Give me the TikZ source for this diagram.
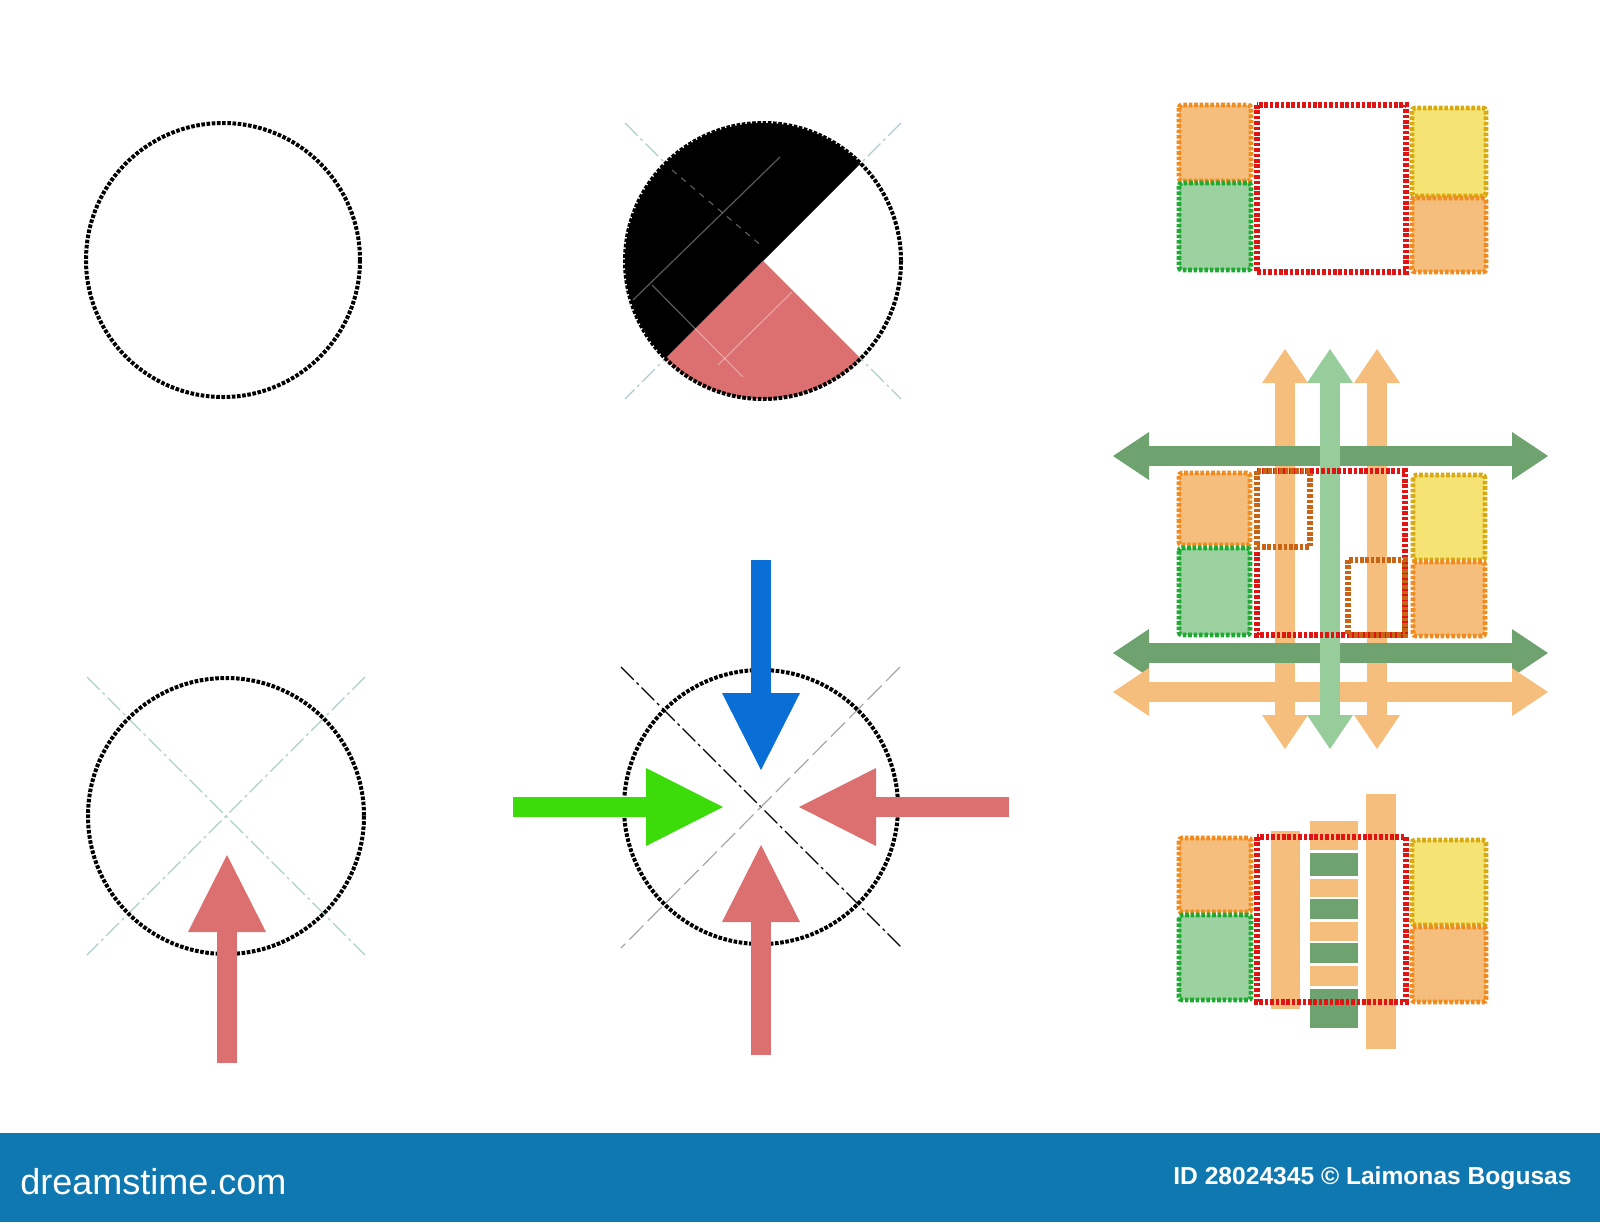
\documentclass[tikz,border=0pt]{standalone}
\usepackage{fontspec}
\setmainfont{Liberation Sans}
\usetikzlibrary{arrows.meta}

\definecolor{peach}{RGB}{246,190,125}
\definecolor{peachline}{RGB}{240,140,30}
\definecolor{mint}{RGB}{155,210,160}
\definecolor{mintline}{RGB}{30,170,50}
\definecolor{lemon}{RGB}{245,228,115}
\definecolor{lemonline}{RGB}{215,170,20}
\definecolor{framered}{RGB}{225,20,20}
\definecolor{framebrown}{RGB}{200,100,20}
\definecolor{lanegreen}{RGB}{110,162,110}
\definecolor{lanemint}{RGB}{150,205,155}
\definecolor{rose}{RGB}{220,112,112}
\definecolor{pushblue}{RGB}{10,110,215}
\definecolor{pushgreen}{RGB}{60,220,10}
\definecolor{guideteal}{RGB}{175,205,205}
\definecolor{bannerblue}{RGB}{16,120,176}

\tikzstyle{dotring}=[draw=black, line width=2pt, dash pattern=on 1.8pt off 0.8pt]
\tikzstyle{guide}=[draw=guideteal, line width=0.6pt, dash pattern=on 9pt off 2pt on 1.5pt off 2pt]
\tikzstyle{ghost}=[draw=white, opacity=0.35, line width=0.6pt]
\tikzstyle{tile}=[line width=2.4pt, dash pattern=on 1.8pt off 0.9pt, rounded corners=1.5pt]
\tikzstyle{frame}=[line width=3.2pt, dash pattern=on 1.8pt off 0.9pt]
\tikzstyle{fatarrow}=[line width=10pt, -{Triangle[width=39pt, length=38.5pt, line width=0pt]}]
\tikzstyle{lane}=[line width=10pt, {Triangle[width=23pt, length=17pt, line width=0pt]}-{Triangle[width=23pt, length=17pt, line width=0pt]}]
\tikzstyle{wide lane}=[line width=10pt, {Triangle[width=24pt, length=18pt, line width=0pt]}-{Triangle[width=24pt, length=18pt, line width=0pt]}]

\begin{document}
\begin{tikzpicture}[x=0.5pt, y=-0.5pt]
\useasboundingbox (0,0) rectangle (1600,1222);
%
% empty ring
\coordinate (ringA) at (223,260);
\draw[dotring] (ringA) circle[radius=137];
%
% split disc
\coordinate (ringB) at (763,261);
\draw[guide] (625,123) -- (901,399);
\draw[guide] (901,123) -- (625,399);
\fill[white] (ringB) circle[radius=138];
\fill[black] (ringB) -- ++(135:138) arc[start angle=135, end angle=315, radius=138] -- cycle;
\fill[rose] (ringB) -- ++(45:138) arc[start angle=45, end angle=135, radius=138] -- cycle;
\draw[ghost] (633,300) -- (780,157);
\draw[ghost] (652,285) -- (743,377);
\draw[ghost, dashed] (672,170) -- (763,247);
\draw[ghost] (718,365) -- (792,292);
\draw[dotring] (ringB) circle[radius=138];
%
% ring pushed from below
\coordinate (ringC) at (226,816);
\draw[guide] (87,677) -- (365,955);
\draw[guide] (365,677) -- (87,955);
\draw[dotring] (ringC) circle[radius=138];
\coordinate (pushC) at (227,1063);
\coordinate (tipC) at (227,855);
\draw[fatarrow, rose] (pushC) -- (tipC);
%
% ring pushed from four sides
\coordinate (ringD) at (761,807);
\draw[black, line width=0.6pt, dash pattern=on 9pt off 2pt on 1.5pt off 2pt] (621,667) -- (902,948);
\draw[gray!70, line width=0.6pt, dash pattern=on 10pt off 3pt] (900,667) -- (621,948);
\draw[dotring] (ringD) circle[radius=137];
\coordinate (fromN) at (761,560);
\coordinate (toN) at (761,770);
\coordinate (fromW) at (513,807);
\coordinate (toW) at (723,807);
\coordinate (fromE) at (1009,807);
\coordinate (toE) at (799,807);
\coordinate (fromS) at (761,1055);
\coordinate (toS) at (761,845);
\draw[fatarrow, pushblue] (fromN) -- (toN);
\draw[fatarrow, pushgreen] (fromW) -- (toW);
\draw[fatarrow, rose] (fromE) -- (toE);
\draw[fatarrow, rose] (fromS) -- (toS);
%
% plan, top
\draw[tile, draw=peachline, fill=peach] (1179,105) rectangle (1251,181);
\draw[tile, draw=mintline, fill=mint] (1179,183) rectangle (1251,270);
\draw[tile, draw=lemonline, fill=lemon] (1412,108) rectangle (1486,196);
\draw[tile, draw=peachline, fill=peach] (1412,198) rectangle (1486,272);
\draw[frame, draw=framered] (1257,105) rectangle (1406,272);
%
% plan, middle, with lanes
\coordinate (laneAtop) at (1285,349);
\coordinate (laneAbot) at (1285,749);
\coordinate (laneBtop) at (1330,349);
\coordinate (laneBbot) at (1330,749);
\coordinate (laneCtop) at (1377,349);
\coordinate (laneCbot) at (1377,749);
\coordinate (laneDwest) at (1113,456);
\coordinate (laneDeast) at (1548,456);
\coordinate (laneEwest) at (1113,653);
\coordinate (laneEeast) at (1548,653);
\coordinate (laneFwest) at (1113,692);
\coordinate (laneFeast) at (1548,692);
\draw[lane, peach] (laneAbot) -- (laneAtop);
\draw[lane, peach] (laneCbot) -- (laneCtop);
\draw[wide lane, lanegreen] (laneDwest) -- (laneDeast);
\draw[wide lane, lanegreen] (laneEwest) -- (laneEeast);
\draw[wide lane, peach] (laneFwest) -- (laneFeast);
\draw[lane, lanemint] (laneBbot) -- (laneBtop);
\draw[tile, draw=peachline, fill=peach] (1179,473) rectangle (1250,545);
\draw[tile, draw=mintline, fill=mint] (1179,548) rectangle (1250,635);
\draw[tile, draw=lemonline, fill=lemon] (1413,475) rectangle (1485,560);
\draw[tile, draw=peachline, fill=peach] (1413,562) rectangle (1485,636);
\draw[frame, draw=framered] (1257,471) rectangle (1405,635);
\draw[frame, draw=framebrown] (1257,471) rectangle (1310,547);
\draw[frame, draw=framebrown] (1348,560) rectangle (1405,635);
%
% plan, bottom, with strips
\fill[peach] (1271,831) rectangle (1300,1009);
\fill[peach] (1366,794) rectangle (1396,1049);
\fill[peach] (1310,821) rectangle (1358,850);
\fill[lanegreen] (1310,853) rectangle (1358,876);
\fill[peach] (1310,879) rectangle (1358,897);
\fill[lanegreen] (1310,899) rectangle (1358,919);
\fill[peach] (1310,922) rectangle (1358,941);
\fill[lanegreen] (1310,943) rectangle (1358,963);
\fill[peach] (1310,966) rectangle (1358,986);
\fill[lanegreen] (1310,989) rectangle (1358,1028);
\draw[tile, draw=peachline, fill=peach] (1179,838) rectangle (1251,912);
\draw[tile, draw=mintline, fill=mint] (1179,915) rectangle (1251,1000);
\draw[tile, draw=lemonline, fill=lemon] (1412,840) rectangle (1486,925);
\draw[tile, draw=peachline, fill=peach] (1412,927) rectangle (1486,1002);
\draw[frame, draw=framered] (1257,837) rectangle (1406,1002);
%
% banner
\fill[bannerblue] (0,1133) rectangle (1600,1222);
\node[anchor=west, text=white, inner sep=0pt, font=\fontsize{18}{18}\selectfont] (logo) at (20,1182) {dreamstime.com};
\node[anchor=east, text=white, inner sep=0pt, font=\fontsize{12.3}{14}\selectfont\bfseries] (credit) at (1572,1178) {ID 28024345 © Laimonas Bogusas};
\end{tikzpicture}
\end{document}
